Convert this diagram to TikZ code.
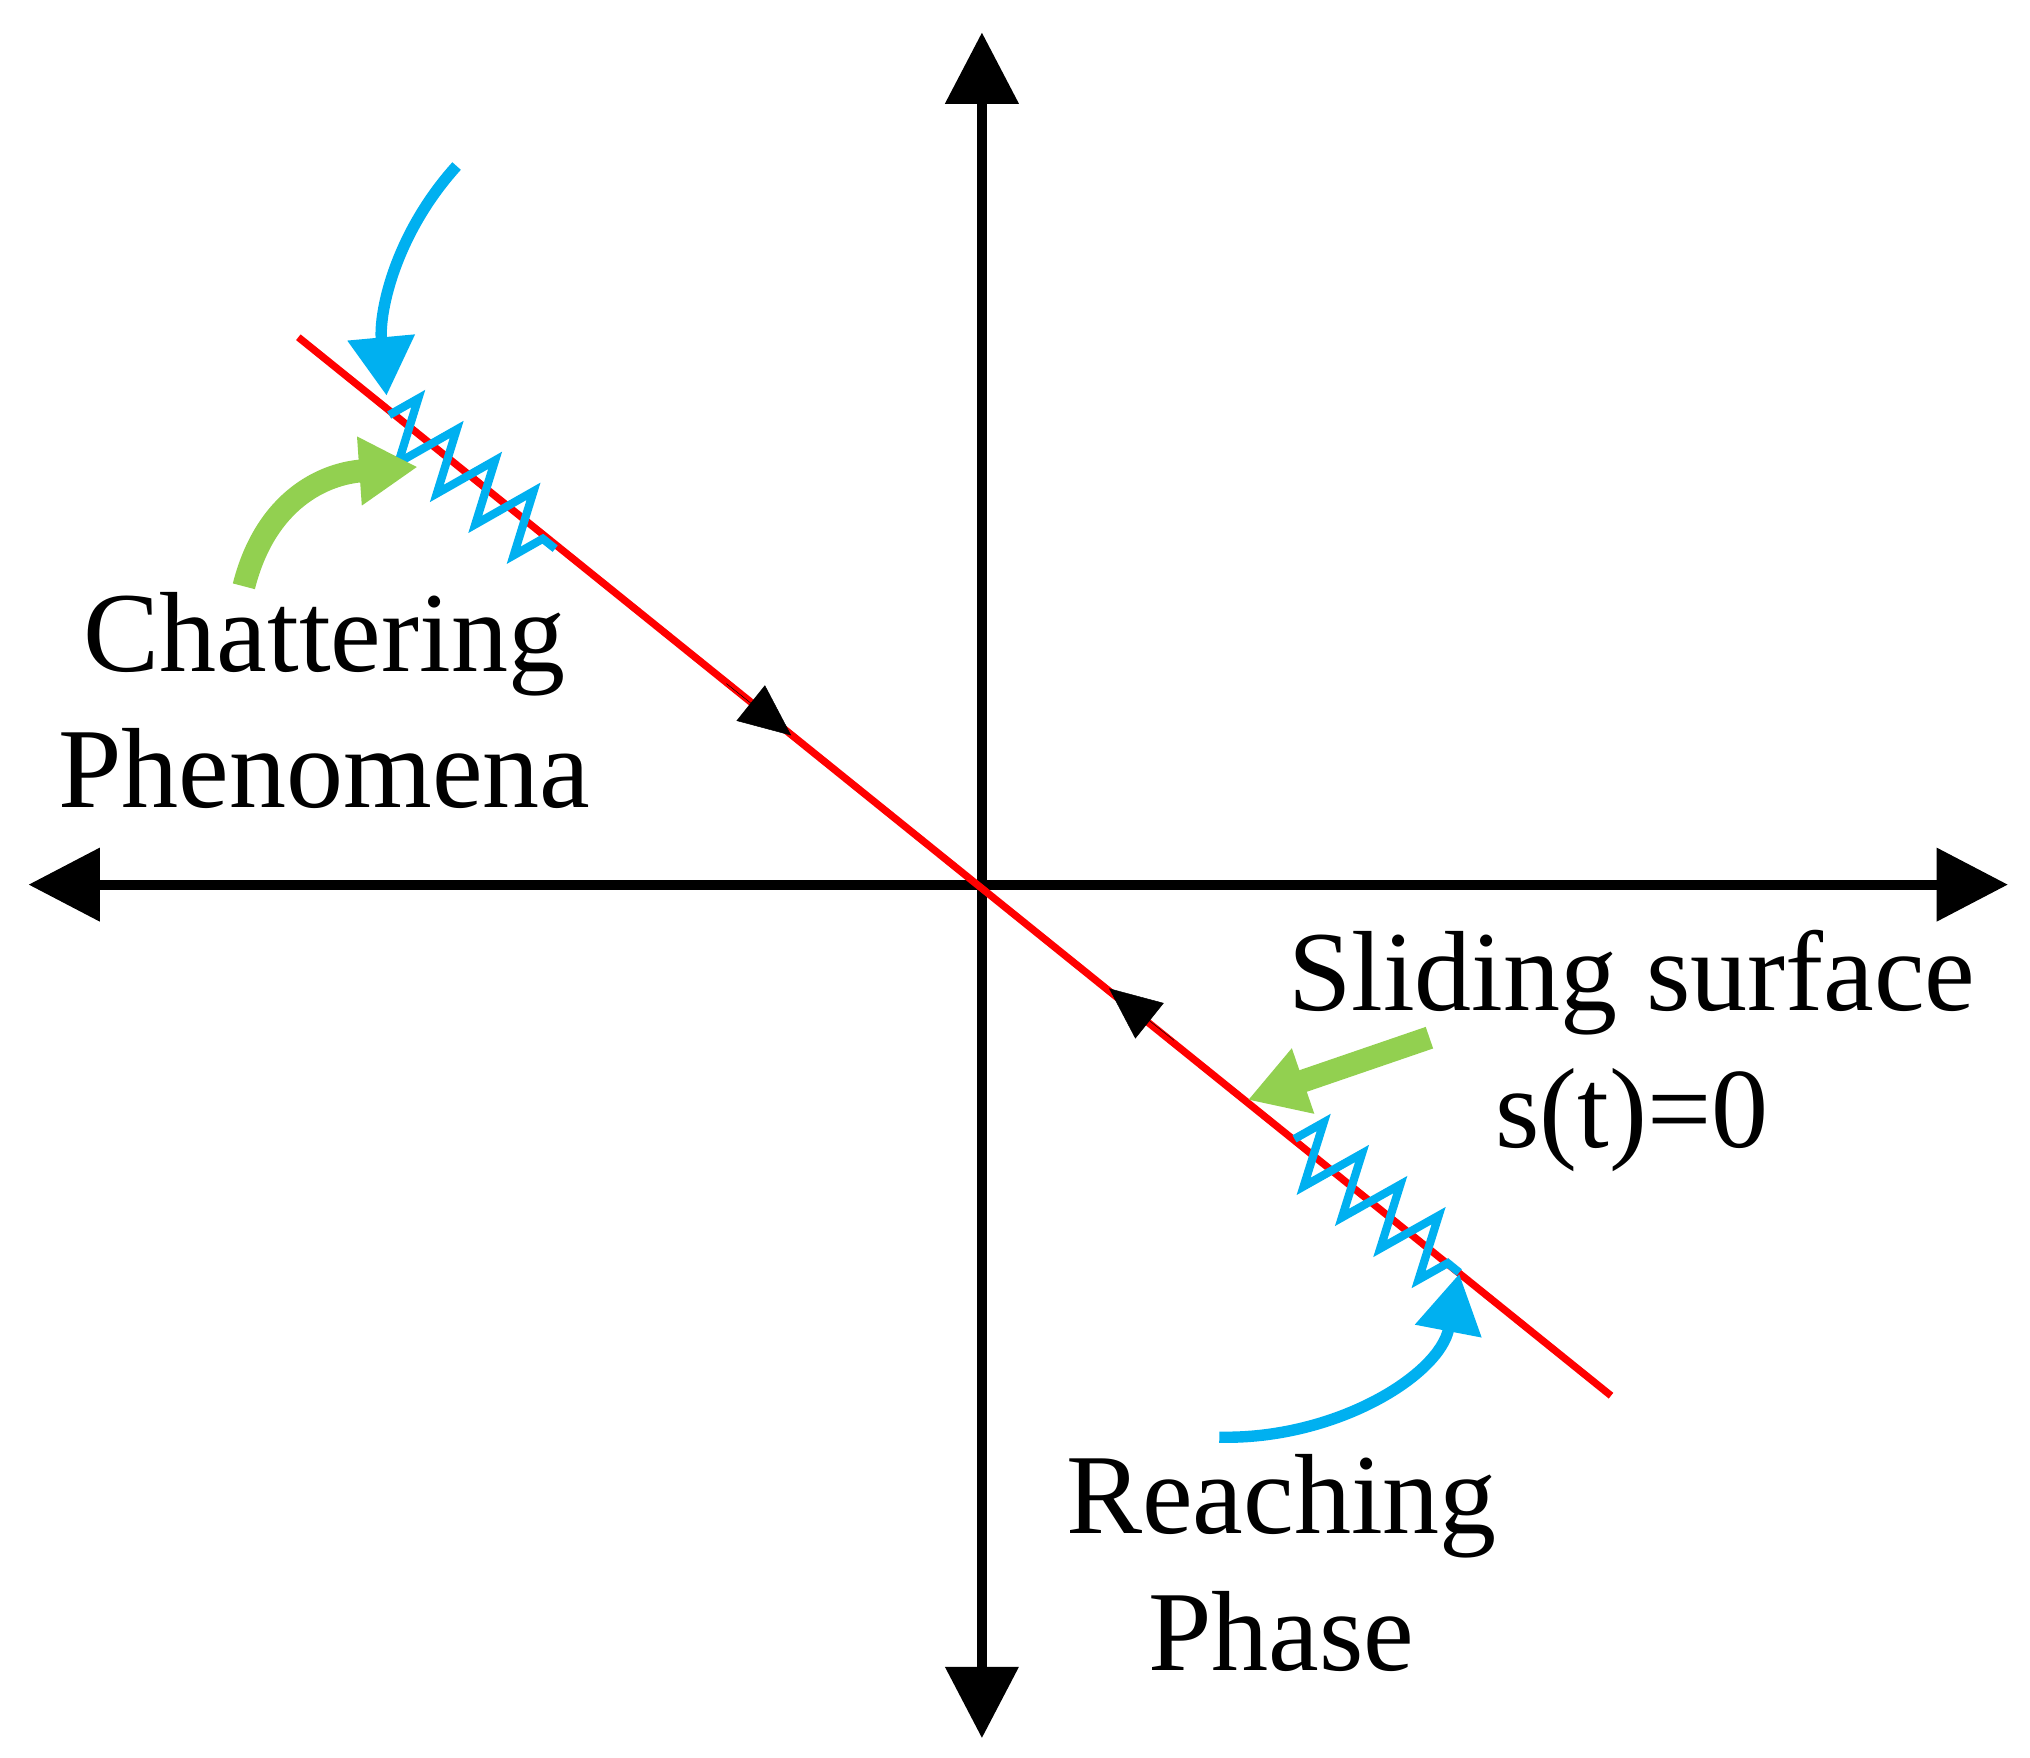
\documentclass[tikz,border=0pt]{standalone}
\usepackage{fontspec}
\setmainfont{Liberation Serif}
\usetikzlibrary{arrows.meta,decorations.pathmorphing}
\definecolor{cblue}{RGB}{0,176,240}
\definecolor{cgreen}{RGB}{146,208,80}
\begin{document}
\begin{tikzpicture}[x=0.01cm,y=-0.01cm,
  axis/.style={line width=2.2pt,{Triangle[length=0.55cm,width=0.55cm]}-{Triangle[length=0.55cm,width=0.55cm]}},
  lbl/.style={font=\fontsize{25}{30}\selectfont,align=center},
  zz/.style={cblue,line width=1.8pt,decorate,decoration={zigzag,segment length=0.38cm,amplitude=0.24cm}},
  carrow/.style={line width=3pt,-{Triangle[length=0.45cm,width=0.5cm]}}]
\useasboundingbox (0,0) rectangle (1565,1355);
\coordinate (O) at (757,682);
\coordinate (T) at (757,25);
\coordinate (B) at (757,1340);
\coordinate (L) at (22,682);
\coordinate (R) at (1548,682);
\draw[axis] (B) -- (T);
\draw[axis] (L) -- (R);
\coordinate (S1) at (230,260);
\coordinate (S2) at (1242,1076);
\draw[red,line width=1.6pt] (S1) -- (S2);
\coordinate (a1) at (560,527);
\coordinate (a2) at (610,567);
\coordinate (a3) at (905,802);
\coordinate (a4) at (855,762);
\draw[-{Triangle[length=0.4cm,width=0.35cm]},line width=0.1pt] (a1) -- (a2);
\draw[-{Triangle[length=0.4cm,width=0.35cm]},line width=0.1pt] (a3) -- (a4);
\coordinate (Z1) at (300,320);
\coordinate (Z2) at (428,423);
\draw[zz] (Z1) -- (Z2);
\coordinate (Z3) at (998,878);
\coordinate (Z4) at (1125,981);
\draw[zz] (Z3) -- (Z4);
\coordinate (bA) at (352,128);
\draw[carrow,cblue,line width=2.5pt] (bA) .. controls (305,180) and (292,240) .. (298,305);
\coordinate (gA) at (188,452);
\draw[carrow,cgreen,line width=5pt] (gA) .. controls (205,385) and (250,365) .. (322,360);
\coordinate (gB) at (1102,800);
\draw[carrow,cgreen,line width=5pt] (gB) -- (962,848);
\coordinate (bB) at (940,1108);
\draw[carrow,cblue,line width=2.5pt] (bB) .. controls (1030,1110) and (1110,1060) .. (1125,982);
\node[lbl] (chat) at (250,540) {Chattering\\Phenomena};
\node[lbl] (slid) at (1258,810) {Sliding surface\\s(t)=0};
\node[lbl] (reach) at (988,1205) {Reaching\\Phase};
\end{tikzpicture}
\end{document}
